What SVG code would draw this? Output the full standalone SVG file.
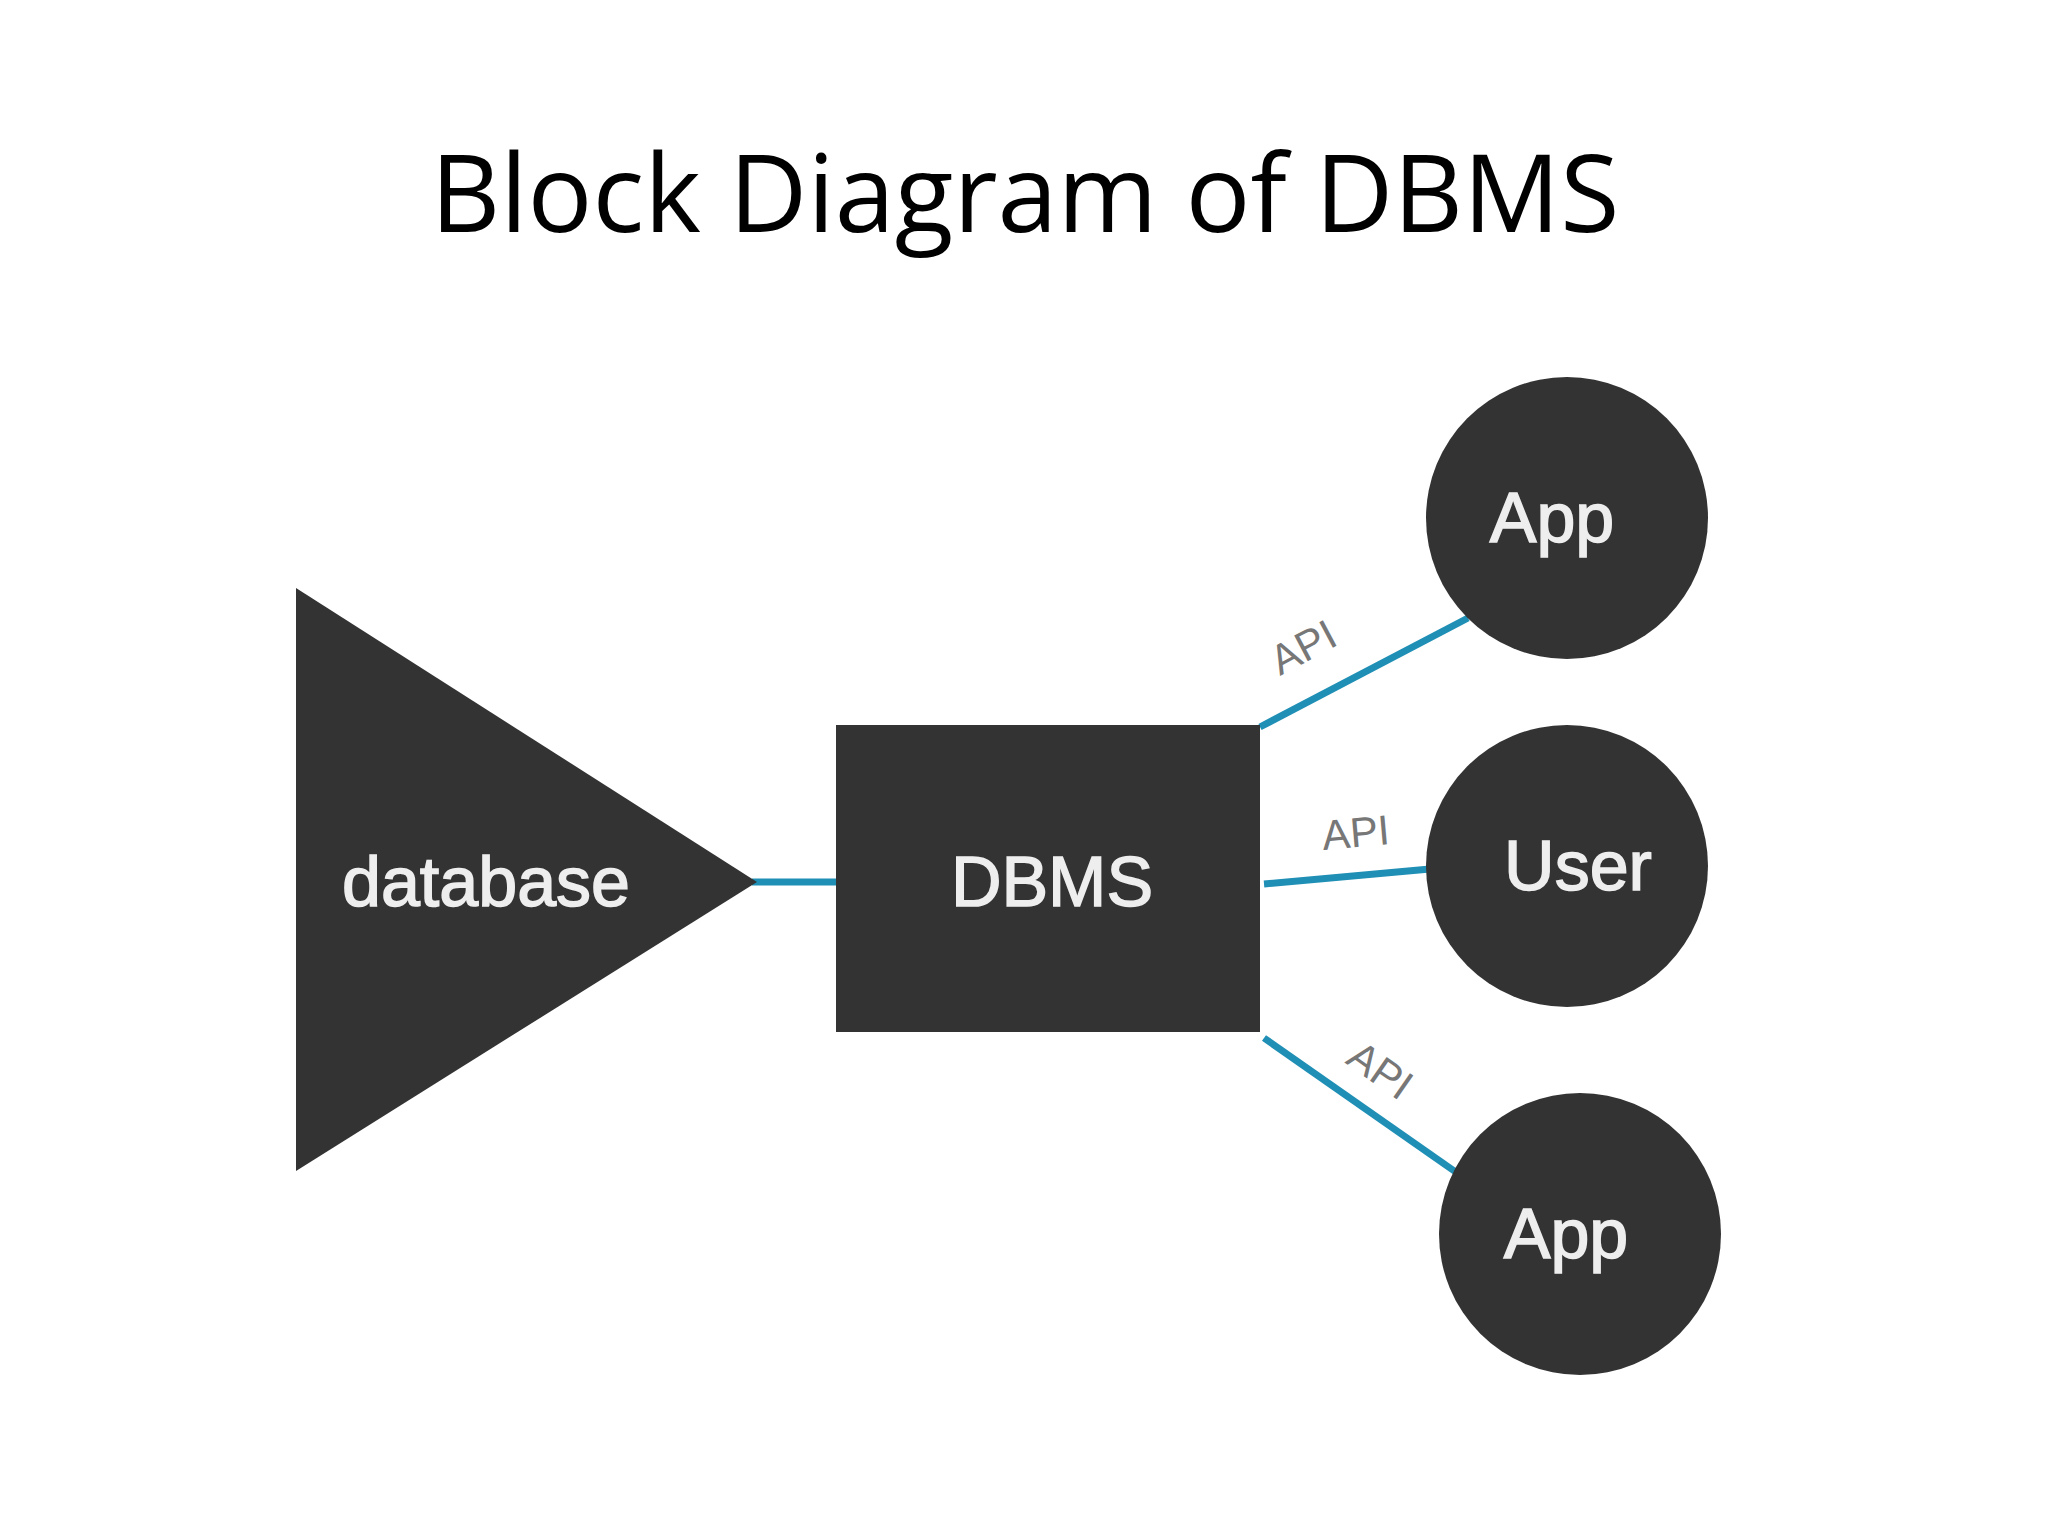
<svg xmlns="http://www.w3.org/2000/svg" width="2048" height="1536" viewBox="0 0 2048 1536">
<style>
.node{fill:#333333}
.lbl{font-family:"Liberation Sans",Arial,sans-serif;fill:#eeeeee;stroke:#eeeeee;stroke-width:1.5;text-anchor:middle;dominant-baseline:central}
.api{font-family:"Liberation Sans",Arial,sans-serif;fill:#777;font-size:42px;text-anchor:middle}
.edge{stroke:#1f8fb5;stroke-width:7;fill:none}
</style>
<rect width="2048" height="1536" fill="#ffffff"/>
<text x="1025" y="232" font-family="Open Sans,Liberation Sans,sans-serif" font-size="108" text-anchor="middle" fill="#000">Block Diagram of DBMS</text>
<g id="connectors">
<line class="edge" x1="752" y1="882" x2="836" y2="882"/>
<line class="edge" x1="1260" y1="727" x2="1468" y2="618"/>
<line class="edge" x1="1264" y1="884" x2="1430" y2="869"/>
<line class="edge" x1="1264" y1="1038" x2="1460" y2="1175"/>
<text class="api" transform="translate(1310,660) rotate(-28)">API</text>
<text class="api" transform="translate(1357,847) rotate(-5)">API</text>
<text class="api" transform="translate(1372,1082) rotate(35)">API</text>
</g>
<g id="database"><polygon class="node" points="296,588 296,1171 757,882"/><text class="lbl" x="486" y="882" font-size="70">database</text></g>
<g id="dbms"><rect class="node" x="836" y="725" width="424" height="307"/><text class="lbl" x="1052" y="882" font-size="70">DBMS</text></g>
<g id="app1"><circle class="node" cx="1567" cy="518" r="141"/><text class="lbl" x="1552" y="518" font-size="70">App</text></g>
<g id="user"><circle class="node" cx="1567" cy="866" r="141"/><text class="lbl" x="1578" y="866" font-size="70">User</text></g>
<g id="app2"><circle class="node" cx="1580" cy="1234" r="141"/><text class="lbl" x="1566" y="1234" font-size="70">App</text></g>
</svg>
